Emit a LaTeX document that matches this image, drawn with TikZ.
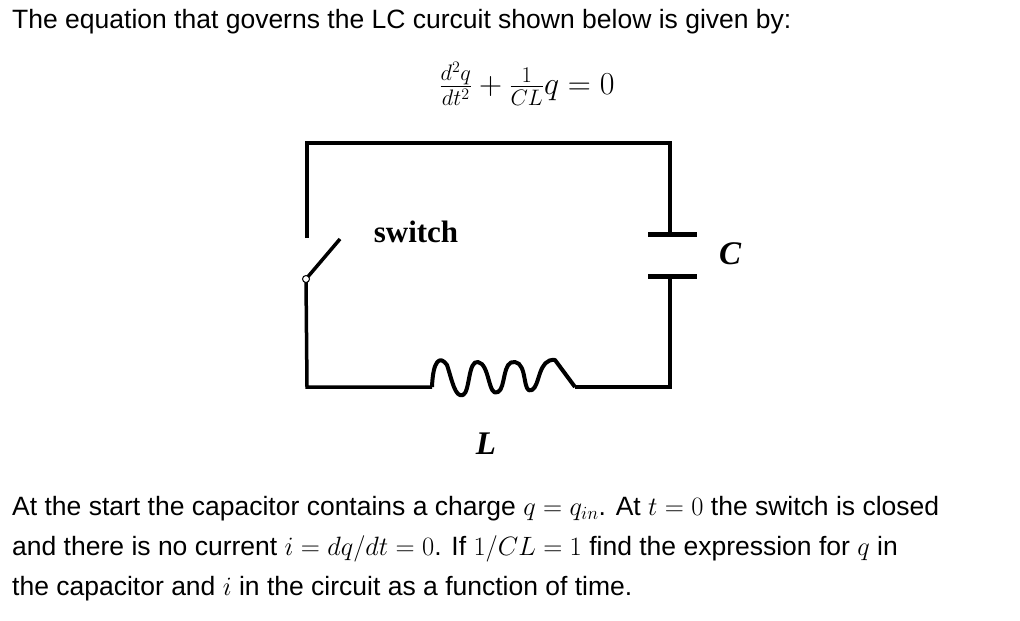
\RequirePackage{fix-cm}
\documentclass[tikz,border=0pt]{standalone}
\usepackage{amsmath}
\usepackage{fontspec}
\setmainfont{Liberation Sans}
\newfontfamily\tnr{Liberation Serif}
\tikzset{wire/.style={line width=3.5pt},
 txt/.style={anchor=west,inner sep=0,font=\fontsize{26.5}{30}\selectfont}}
\newcommand{\mz}{\fontsize{27}{30}\selectfont}
\begin{document}
\begin{tikzpicture}[x=1pt,y=-1pt]
\useasboundingbox (0,0) rectangle (1020,621);
\node[txt] (l0) at (12,22) {The equation that governs the LC curcuit shown below is given by:};
\node[inner sep=0,font=\fontsize{32}{36}\selectfont] (eq) at (527,84) {$\frac{d^2q}{dt^2}+\frac{1}{CL}q=0$};
% circuit
\coordinate (tl) at (307,143); \coordinate (tr) at (670,143);
\coordinate (bl) at (307,387); \coordinate (br) at (670,387);
\coordinate (sw1) at (307,238); \coordinate (piv) at (306,279); \coordinate (blade) at (340,239);
\coordinate (c1) at (670,234); \coordinate (c2) at (670,276);
\coordinate (i1) at (432,387); \coordinate (i2) at (575,387);
\draw[wire] (sw1) -- (tl) -- (tr) -- (c1);
\draw[wire] (c2) -- (br) -- (i2);
\draw[wire] (i1) -- (bl) -- (piv);
\draw[wire] (piv) -- (blade);
\draw[line width=1pt,fill=white] (piv) circle (3.5);
\draw[line width=5pt] (648,234) -- (697,234);
\draw[line width=5pt] (648,276) -- (697,276);
\draw[line width=4pt,line join=round] (i1) .. controls (433,360) and (440,355) .. (447,365)
 .. controls (452,380) and (455,398) .. (463,395)
 .. controls (470,392) and (468,360) .. (478,362)
 .. controls (490,364) and (488,398) .. (498,392)
 .. controls (506,388) and (502,360) .. (515,362)
 .. controls (528,364) and (522,395) .. (532,390)
 .. controls (540,386) and (538,358) .. (555,360)
 -- (i2);
\node[font=\tnr\bfseries\fontsize{31}{34}\selectfont,inner sep=0] (sw) at (416,232) {switch};
\node[font=\tnr\bfseries\itshape\fontsize{33}{34}\selectfont,inner sep=0] (C) at (730,254) {C};
\node[font=\tnr\bfseries\itshape\fontsize{33}{34}\selectfont,inner sep=0] (L) at (486,444) {L};
\node[txt] (l1) at (12,509) {At the start the capacitor contains a charge $\mz q=q_{in}$. At $\mz t=0$ the switch is closed};
\node[txt] (l2) at (12,549) {and there is no current $\mz i=dq/dt=0$. If $\mz 1/CL=1$ find the expression for $\mz q$ in};
\node[txt] (l3) at (12,589) {the capacitor and $\mz i$ in the circuit as a function of time.};
\end{tikzpicture}
\end{document}
